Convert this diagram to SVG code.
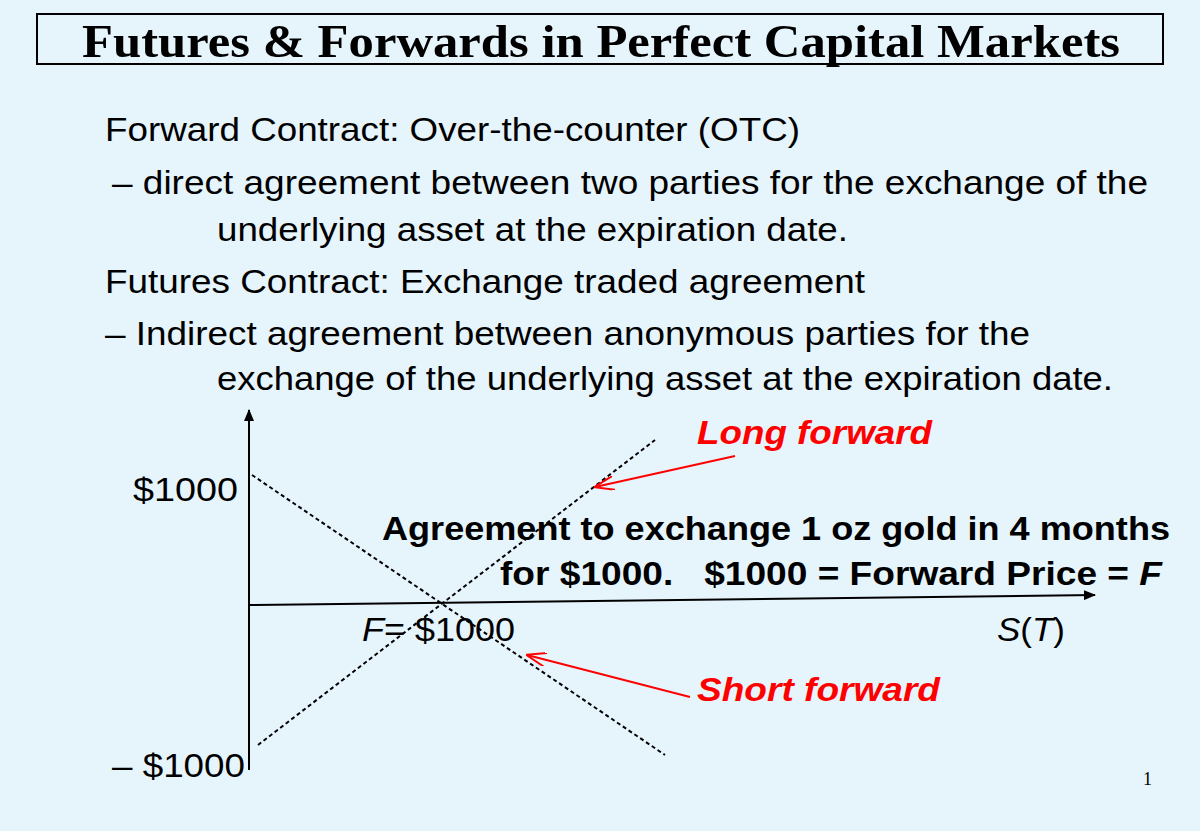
<svg xmlns="http://www.w3.org/2000/svg" width="1200" height="831" viewBox="0 0 1200 831">
<style>
.b{font-family:"Liberation Sans",Arial,sans-serif;font-size:34px;fill:#000}
.bb{font-family:"Liberation Sans",Arial,sans-serif;font-size:33px;font-weight:bold;fill:#000}
.r{font-family:"Liberation Sans",Arial,sans-serif;font-size:33px;font-weight:bold;font-style:italic;fill:#f00}
.d{stroke:#000;stroke-width:2;stroke-dasharray:4,3;fill:none}
</style>
<defs>
<marker id="ak" markerWidth="12" markerHeight="10" refX="11" refY="5" orient="auto" markerUnits="userSpaceOnUse"><path d="M0,0 L12,5 L0,10 Z" fill="#000"/></marker>
<marker id="ar" markerWidth="20" markerHeight="14" refX="1" refY="7" orient="auto" markerUnits="userSpaceOnUse"><path d="M20,0 L0,7 L20,14" fill="none" stroke="#f00" stroke-width="2"/></marker>
</defs>
<rect width="1200" height="831" fill="#E6F4FC"/>
<g id="title"><rect x="37" y="14" width="1126" height="50" fill="none" stroke="#000" stroke-width="2"/>
<text x="82" y="57" textLength="1038" lengthAdjust="spacingAndGlyphs" font-family="Liberation Serif,serif" font-weight="bold" font-size="46">Futures &amp; Forwards in Perfect Capital Markets</text></g>
<g id="body">
<text class="b" x="105" y="141" textLength="695" lengthAdjust="spacingAndGlyphs">Forward Contract: Over-the-counter (OTC)</text>
<text class="b" x="112" y="194" textLength="1036" lengthAdjust="spacingAndGlyphs">– direct agreement between two parties for the exchange of the</text>
<text class="b" x="217" y="241" textLength="631" lengthAdjust="spacingAndGlyphs">underlying asset at the expiration date.</text>
<text class="b" x="105" y="293" textLength="760" lengthAdjust="spacingAndGlyphs">Futures Contract: Exchange traded agreement</text>
<text class="b" x="105" y="345" textLength="925" lengthAdjust="spacingAndGlyphs">– Indirect agreement between anonymous parties for the</text>
<text class="b" x="217" y="390" textLength="896" lengthAdjust="spacingAndGlyphs">exchange of the underlying asset at the expiration date.</text>
</g>
<g id="connectors">
<line x1="249" y1="770" x2="249" y2="410" stroke="#000" stroke-width="2" marker-end="url(#ak)"/>
<line x1="249" y1="605" x2="1095" y2="595" stroke="#000" stroke-width="2" marker-end="url(#ak)"/>
<line class="d" x1="258" y1="745" x2="655" y2="440"/>
<line class="d" x1="252" y1="475" x2="665" y2="755"/>
<line x1="595" y1="487" x2="735" y2="456" stroke="#f00" stroke-width="2" marker-start="url(#ar)"/>
<line x1="527" y1="655" x2="690" y2="697" stroke="#f00" stroke-width="2" marker-start="url(#ar)"/>
</g>
<g id="labels">
<text class="b" x="133" y="501" textLength="105" lengthAdjust="spacingAndGlyphs">$1000</text>
<text class="b" x="112" y="777" textLength="133" lengthAdjust="spacingAndGlyphs">– $1000</text>
<text class="r" x="697" y="444" textLength="235" lengthAdjust="spacingAndGlyphs">Long forward</text>
<text class="r" x="697" y="701" textLength="243" lengthAdjust="spacingAndGlyphs">Short forward</text>
<text class="bb" x="382" y="540" textLength="788" lengthAdjust="spacingAndGlyphs">Agreement to exchange 1 oz gold in 4 months</text>
<text class="bb" x="500" y="585" textLength="662" lengthAdjust="spacingAndGlyphs" xml:space="preserve">for $1000.   $1000 = Forward Price = <tspan font-style="italic">F</tspan></text>
<text class="b" x="362" y="641" textLength="153" lengthAdjust="spacingAndGlyphs"><tspan font-style="italic">F</tspan>= $1000</text>
<text class="b" x="997" y="641" textLength="68" lengthAdjust="spacingAndGlyphs"><tspan font-style="italic">S</tspan>(<tspan font-style="italic">T</tspan>)</text>
<text x="1143" y="785" font-family="Liberation Serif,serif" font-size="18">1</text>
</g>
</svg>
